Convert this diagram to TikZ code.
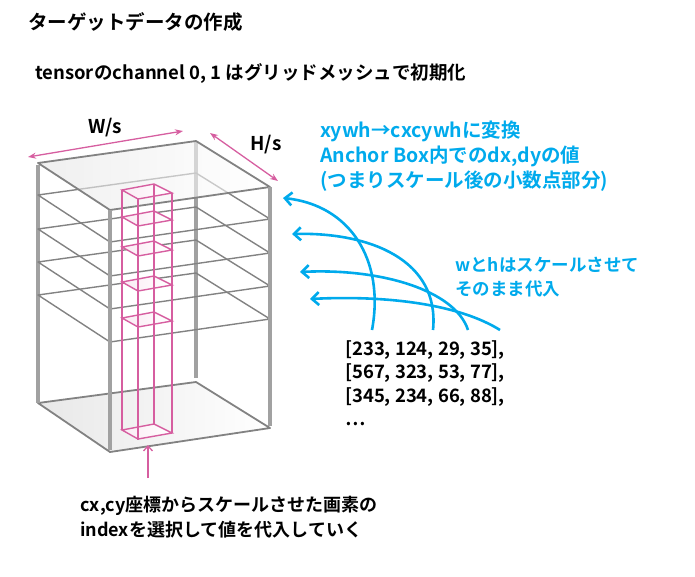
\documentclass[tikz,border=0pt]{standalone}
\usepackage{fontspec}
\setmainfont{Noto Sans CJK JP}
\newfontfamily\jpbold{Noto Sans CJK JP Bold}
\usetikzlibrary{arrows.meta}
\definecolor{pinkline}{RGB}{214,94,160}
\definecolor{bluetext}{RGB}{0,170,236}
\definecolor{grayline}{RGB}{130,130,130}
\tikzset{
  plane/.style={draw=grayline, line width=1.8pt, line join=round},
  pillar/.style={draw=grayline!75, line width=3.6pt},
  cell/.style={draw=pinkline, line width=1.8pt},
  dimarrow/.style={draw=pinkline, line width=1.3pt, {Stealth[length=8pt]}-{Stealth[length=8pt]}},
  mapline/.style={draw=bluetext, line width=2.6pt, -{Straight Barb[length=7pt,width=13pt]}},
  label/.style={font=\jpbold\fontsize{17}{22}\selectfont, anchor=west, inner sep=0pt},
  bluelabel/.style={label, text=bluetext, align=left},
}
\begin{document}
\begin{tikzpicture}[x=1pt,y=-1pt]
  \useasboundingbox (0,0) rectangle (695,576);
  % titles
  \node[label, font=\jpbold\fontsize{19.5}{22}\selectfont] (title) at (28,22) {ターゲットデータの作成};
  \node[label, font=\jpbold\fontsize{18.5}{22}\selectfont] (init) at (35,73) {tensorのchannel 0, 1 はグリッドメッシュで初期化};

  % bottom plane and pillars
  \shade[left color=gray!18, right color=white, plane] (38,403) -- (196,382) -- (270,428) -- (110,452) -- cycle;
  \draw[pillar] (196,141) -- (196,378);
  \draw[pillar] (38,165) -- (38,403);

  % layers
  \foreach \dy in {32,66,99,132} {
    \draw[plane, line width=1.4pt] (38,163+\dy) -- (196,141+\dy) -- (270,187+\dy) -- (110,210+\dy) -- cycle;
  }
  % top plane
  \shade[left color=gray!20, right color=white, fill opacity=0.6] (38,163) -- (196,141) -- (270,187) -- (110,210) -- cycle;
  \draw[plane] (38,163) -- (196,141) -- (270,187) -- (110,210) -- cycle;

  % pink column
  \foreach \dy in {0,27,57,92,128,240} {
    \shade[left color=pinkline!12, right color=white, cell, line width=1.4pt] (122,190+\dy) -- (154,184+\dy) -- (172,193+\dy) -- (138,199+\dy) -- cycle;
  }
  \draw[cell] (122,190) -- (122,430);
  \draw[cell] (138,199) -- (138,440);
  \draw[cell] (154,184) -- (154,424);
  \draw[cell] (172,193) -- (172,433);

  \draw[pillar] (110,210) -- (110,450);
  \draw[pillar] (270,187) -- (270,426);

  % dimensions
  \coordinate (wl) at (28,157);
  \coordinate (wr) at (183,131);
  \coordinate (hl) at (210,133);
  \coordinate (hr) at (278,181);
  \draw[dimarrow] (wl) -- (wr);
  \draw[dimarrow] (hl) -- (hr);
  \node[label, anchor=center, font=\jpbold\fontsize{19}{22}\selectfont] (ws) at (105,128) {W/s};
  \node[label, anchor=center, font=\jpbold\fontsize{19}{22}\selectfont] (hs) at (266,145) {H/s};

  % annotations
  \node[bluelabel, anchor=north west, font=\jpbold\fontsize{19.5}{25}\selectfont] (conv) at (320,121) {xywh→cxcywhに変換\\Anchor Box内でのdx,dyの値\\(つまりスケール後の小数点部分)};
  \node[bluelabel, anchor=north west, font=\jpbold\fontsize{17.5}{24}\selectfont] (wh) at (455,257) {wとhはスケールさせて\\そのまま代入};
  \node[label, anchor=north west, align=left, font=\jpbold\fontsize{18.5}{23.5}\selectfont] (data) at (345,340)
    {[233, 124, 29, 35],\\{[567, 323, 53, 77],}\\{[345, 234, 66, 88],}\\…};
  \node[label, anchor=north west, align=left, font=\jpbold\fontsize{18}{25}\selectfont] (pick) at (80,496) {cx,cy座標からスケールさせた画素の\\indexを選択して値を代入していく};

  % mapping arrows
  \coordinate (c1) at (283,198);
  \coordinate (c2) at (292,234);
  \coordinate (c3) at (300,272);
  \coordinate (c4) at (310,299);
  \draw[mapline] (372,330) .. controls (385,260) and (350,205) .. (c1);
  \draw[mapline] (433,330) .. controls (440,260) and (370,232) .. (c2);
  \draw[mapline] (468,330) .. controls (455,290) and (380,268) .. (c3);
  \draw[mapline] (500,330) .. controls (460,305) and (390,295) .. (c4);

  % index arrow
  \coordinate (idx) at (148,478);
  \draw[draw=pinkline, line width=1.3pt, -{Straight Barb[length=5pt,width=9pt]}] (idx) -- (148,445);
\end{tikzpicture}
\end{document}
